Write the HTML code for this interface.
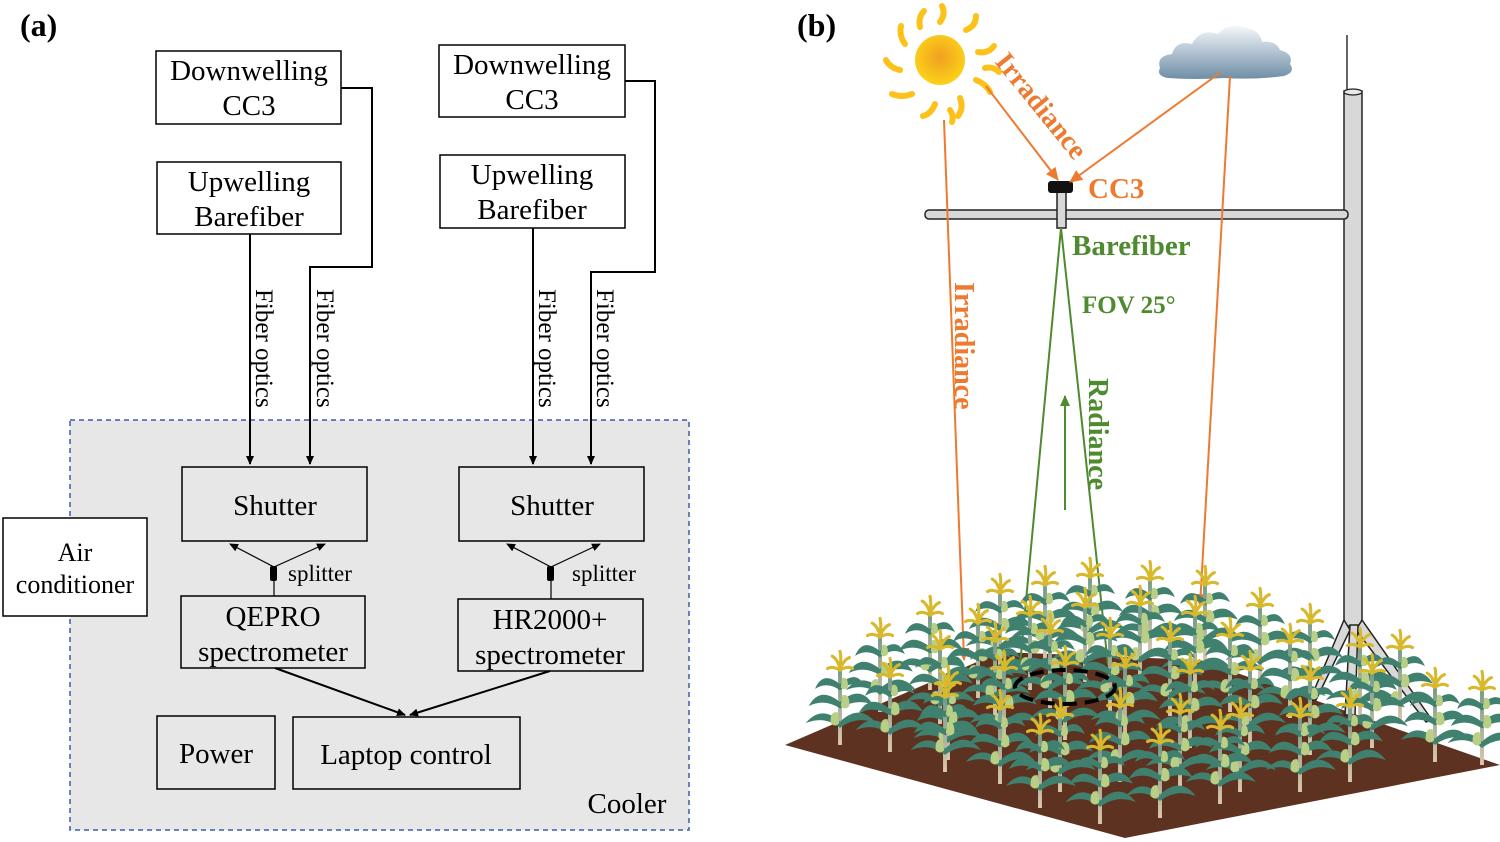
<!DOCTYPE html>
<html><head><meta charset="utf-8"><style>
body{margin:0;background:#fff}
svg{display:block}
text{font-family:"Liberation Serif",serif}
</style></head><body>
<svg width="1500" height="842" viewBox="0 0 1500 842" xmlns="http://www.w3.org/2000/svg">
<defs>
<marker id="ab" markerWidth="10" markerHeight="10" refX="8" refY="5" orient="auto" markerUnits="userSpaceOnUse"><path d="M0,1 L9,5 L0,9 Z" fill="#000"/></marker>
<marker id="ao" markerWidth="14" markerHeight="14" refX="12" refY="6" orient="auto" markerUnits="userSpaceOnUse"><path d="M0,0 L13,6 L0,12 Z" fill="#ee7a30"/></marker>
<marker id="ag" markerWidth="12" markerHeight="12" refX="10" refY="5" orient="auto" markerUnits="userSpaceOnUse"><path d="M0,0 L11,5 L0,10 Z" fill="#4e8a2e"/></marker>
<radialGradient id="sun" cx="0.5" cy="0.45" r="0.55"><stop offset="0" stop-color="#f0a020"/><stop offset="1" stop-color="#fcd21a"/></radialGradient>
<linearGradient id="cl" x1="0" y1="0" x2="0" y2="1"><stop offset="0" stop-color="#f4f7fa"/><stop offset="1" stop-color="#6e8ea6"/></linearGradient>
<linearGradient id="st" x1="0" y1="0" x2="0" y2="1"><stop offset="0" stop-color="#6f9a88"/><stop offset="1" stop-color="#dcc6aa"/></linearGradient>
<g id="p" transform="scale(0.78)">
<rect x="-2.5" y="-100" width="5" height="100" fill="url(#st)"/>
<path d="M0,-30 Q-24,-52 -44,-28 Q-20,-38 0,-22Z M0,-30 Q26,-54 46,-28 Q22,-38 0,-22Z M0,-55 Q-26,-76 -40,-50 Q-20,-60 0,-47Z M0,-55 Q26,-78 42,-52 Q20,-60 0,-47Z M0,-78 Q-22,-96 -32,-72 Q-16,-82 0,-70Z M0,-78 Q22,-98 32,-74 Q16,-84 0,-70Z" fill="#3f806f"/>
<path d="M3,-64 q10,-2 9,14 q-6,6 -11,0z M-3,-42 q-10,-2 -9,14 q6,6 11,0z M3,-86 q8,-2 7,12 q-5,5 -9,0z" fill="#b9cf86"/>
<path d="M0,-98 q-3,-12 -10,-16 M0,-98 q2,-14 0,-22 M0,-98 q6,-12 12,-14 M0,-96 q-10,-6 -16,-2 M0,-96 q10,-6 16,-2" stroke="#d8b82c" stroke-width="4" fill="none" stroke-linecap="round"/>
</g>
</defs>

<!-- Panel a -->
<text x="20" y="36" font-size="32" font-weight="bold">(a)</text>
<rect x="70" y="420" width="619" height="410" fill="#e7e7e7" stroke="#3b5bab" stroke-width="1.5" stroke-dasharray="5,4"/>
<rect x="3" y="518" width="144" height="98" fill="#fff" stroke="#000" stroke-width="1.5"/>
<text x="75" y="561" font-size="26" text-anchor="middle">Air</text>
<text x="75" y="593" font-size="26" text-anchor="middle">conditioner</text>
<g fill="#fff" stroke="#000" stroke-width="1.5">
<rect x="156" y="51" width="185" height="73"/><rect x="157" y="162" width="184" height="72"/>
<rect x="439" y="45" width="186" height="72"/><rect x="440" y="155" width="185" height="73"/>
</g>
<g fill="#e7e7e7" stroke="#000" stroke-width="1.5">
<rect x="182" y="467" width="185" height="74"/><rect x="459" y="467" width="185" height="74"/>
<rect x="181" y="596" width="184" height="72"/><rect x="458" y="599" width="185" height="72"/>
<rect x="157" y="716" width="118" height="73"/><rect x="293" y="717" width="227" height="72"/>
</g>
<g font-size="29" text-anchor="middle">
<text x="249" y="80">Downwelling</text><text x="249" y="115">CC3</text>
<text x="249" y="191">Upwelling</text><text x="249" y="226">Barefiber</text>
<text x="532" y="74">Downwelling</text><text x="532" y="109">CC3</text>
<text x="532" y="184">Upwelling</text><text x="532" y="219">Barefiber</text>
<text x="275" y="515">Shutter</text><text x="552" y="515">Shutter</text>
<text x="273" y="626">QEPRO</text><text x="273" y="661">spectrometer</text>
<text x="550" y="629">HR2000+</text><text x="550" y="664">spectrometer</text>
<text x="216" y="763">Power</text><text x="406" y="764">Laptop control</text>
<text x="627" y="813">Cooler</text>
</g>
<g stroke="#000" stroke-width="2" fill="none">
<path d="M341,88 H372 V267 H310 V464" marker-end="url(#ab)"/>
<path d="M250,234 V464" marker-end="url(#ab)"/>
<path d="M625,81 H655 V272 H591 V464" marker-end="url(#ab)"/>
<path d="M533,228 V464" marker-end="url(#ab)"/>
<path d="M275,668 L405,715" marker-end="url(#ab)"/>
<path d="M550,671 L410,715" marker-end="url(#ab)"/>
</g>
<g stroke="#000" stroke-width="1.2" fill="none">
<path d="M274,567 L230,544" marker-end="url(#ab)"/><path d="M274,567 L325,544" marker-end="url(#ab)"/>
<path d="M274,580 V596"/>
<path d="M551,567 L507,544" marker-end="url(#ab)"/><path d="M551,567 L600,544" marker-end="url(#ab)"/>
<path d="M551,580 V599"/>
</g>
<rect x="270" y="566" width="7" height="15" rx="2" fill="#000"/>
<rect x="547" y="566" width="7" height="15" rx="2" fill="#000"/>
<text x="288" y="581" font-size="23">splitter</text>
<text x="572" y="581" font-size="23">splitter</text>
<g font-size="25">
<text transform="translate(256,289) rotate(90)">Fiber optics</text>
<text transform="translate(317,289) rotate(90)">Fiber optics</text>
<text transform="translate(539,289) rotate(90)">Fiber optics</text>
<text transform="translate(597,289) rotate(90)">Fiber optics</text>
</g>

<!-- Panel b -->
<text x="797" y="36" font-size="32" font-weight="bold">(b)</text>
<path d="M785,745 L1000,652 L1200,660 L1500,765 L1125,838 Z" fill="#5e3220"/>
<g stroke="#fcc21a" stroke-width="6" fill="none" stroke-linecap="round">
<path d="M940,22 q6,-8 2,-16 M966,30 q10,-4 10,-14 M978,52 q10,2 16,-6 M976,80 q10,4 14,12 M960,98 q4,10 -2,18 M935,104 q-4,10 -12,12 M912,94 q-10,4 -20,0 M900,70 q-10,-2 -14,-10 M905,44 q-6,-8 -4,-18 M920,27 q-2,-10 4,-16 M985,68 q8,-2 14,4 M950,110 q4,6 2,12"/>
</g>
<circle cx="940" cy="60" r="25" fill="url(#sun)"/>
<path d="M1160,68 q-4,-12 12,-14 q4,-14 20,-10 q8,-16 26,-10 q10,-12 28,-6 q14,2 16,14 q14,-2 18,8 q14,4 10,14 q6,8 -6,12 q-30,4 -60,2 q-30,2 -56,0 q-12,-2 -8,-10z" fill="url(#cl)"/>
<!-- pole -->
<line x1="1347" y1="35" x2="1347" y2="145" stroke="#333" stroke-width="1.5"/>
<rect x="1344" y="91" width="18" height="535" fill="#d8d8d8" stroke="#222" stroke-width="1.5"/>
<ellipse cx="1353" cy="92" rx="9" ry="3" fill="#e8e8e8" stroke="#222" stroke-width="1.2"/>
<g stroke="#222" stroke-width="1.5" fill="#d8d8d8">
<path d="M1344,620 L1310,700 L1316,700 L1350,630 Z"/>
<path d="M1362,620 L1432,720 L1426,722 L1356,630 Z"/>
<path d="M1350,625 L1345,715 L1355,715 L1358,625 Z"/>
</g>
<rect x="925" y="210" width="423" height="9" rx="4" fill="#d8d8d8" stroke="#222" stroke-width="1.5"/>
<rect x="1057" y="190" width="9" height="38" fill="#d8d8d8" stroke="#222" stroke-width="1.5"/>
<rect x="1048" y="181" width="25" height="12" rx="3" fill="#111"/>
<!-- orange -->
<g stroke="#ee7a30" stroke-width="2" fill="none">
<path d="M944,120 L964,660" marker-end="url(#ao)"/>
<path d="M986,86 L1058,180" marker-end="url(#ao)"/>
<path d="M1221,72 L1070,182" marker-end="url(#ao)"/>
<path d="M1230,76 L1200,606" marker-end="url(#ao)"/>
</g>
<g fill="#ee7a30" font-weight="bold">
<text transform="translate(994,62) rotate(51)" font-size="28">Irradiance</text>
<text transform="translate(955,282) rotate(90)" font-size="28">Irradiance</text>
<text x="1088" y="198" font-size="29">CC3</text>
</g>
<!-- green -->
<g stroke="#4e8a2e" stroke-width="2" fill="none">
<path d="M1061,228 L1020,665 M1061,228 L1108,665"/>
<path d="M1065,510 L1065,396" marker-end="url(#ag)"/>
</g>
<g fill="#4e8a2e" font-weight="bold">
<text x="1072" y="255" font-size="29">Barefiber</text>
<text x="1082" y="313" font-size="25">FOV 25°</text>
<text transform="translate(1089,378) rotate(90)" font-size="28">Radiance</text>
</g>
<!-- plants -->
<g>
<use href="#p" x="1000" y="668"/><use href="#p" x="1045" y="660"/><use href="#p" x="1090" y="652"/><use href="#p" x="1150" y="655"/><use href="#p" x="1205" y="660"/>
<use href="#p" x="930" y="690"/><use href="#p" x="978" y="698"/><use href="#p" x="1030" y="690"/><use href="#p" x="1085" y="682"/><use href="#p" x="1140" y="680"/><use href="#p" x="1195" y="690"/><use href="#p" x="1260" y="682"/><use href="#p" x="1310" y="698"/>
<use href="#p" x="880" y="712"/><use href="#p" x="940" y="724"/><use href="#p" x="995" y="716"/><use href="#p" x="1050" y="708"/><use href="#p" x="1110" y="712"/><use href="#p" x="1170" y="716"/><use href="#p" x="1230" y="712"/><use href="#p" x="1290" y="718"/><use href="#p" x="1360" y="722"/><use href="#p" x="1400" y="724"/>
<use href="#p" x="840" y="745"/><use href="#p" x="890" y="752"/><use href="#p" x="948" y="760"/><use href="#p" x="1004" y="745"/><use href="#p" x="1065" y="740"/><use href="#p" x="1125" y="742"/><use href="#p" x="1190" y="748"/><use href="#p" x="1250" y="745"/><use href="#p" x="1310" y="755"/><use href="#p" x="1372" y="748"/><use href="#p" x="1435" y="762"/><use href="#p" x="1482" y="765"/>
<use href="#p" x="945" y="772"/><use href="#p" x="1000" y="784"/><use href="#p" x="1060" y="792"/><use href="#p" x="1120" y="782"/><use href="#p" x="1180" y="788"/><use href="#p" x="1240" y="792"/><use href="#p" x="1300" y="792"/><use href="#p" x="1350" y="782"/>
<use href="#p" x="1040" y="808"/><use href="#p" x="1100" y="824"/><use href="#p" x="1160" y="818"/><use href="#p" x="1220" y="804"/>
</g>
<ellipse cx="1065" cy="687" rx="50" ry="17" fill="none" stroke="#000" stroke-width="4" stroke-dasharray="14,8"/>
</svg>
</body></html>
